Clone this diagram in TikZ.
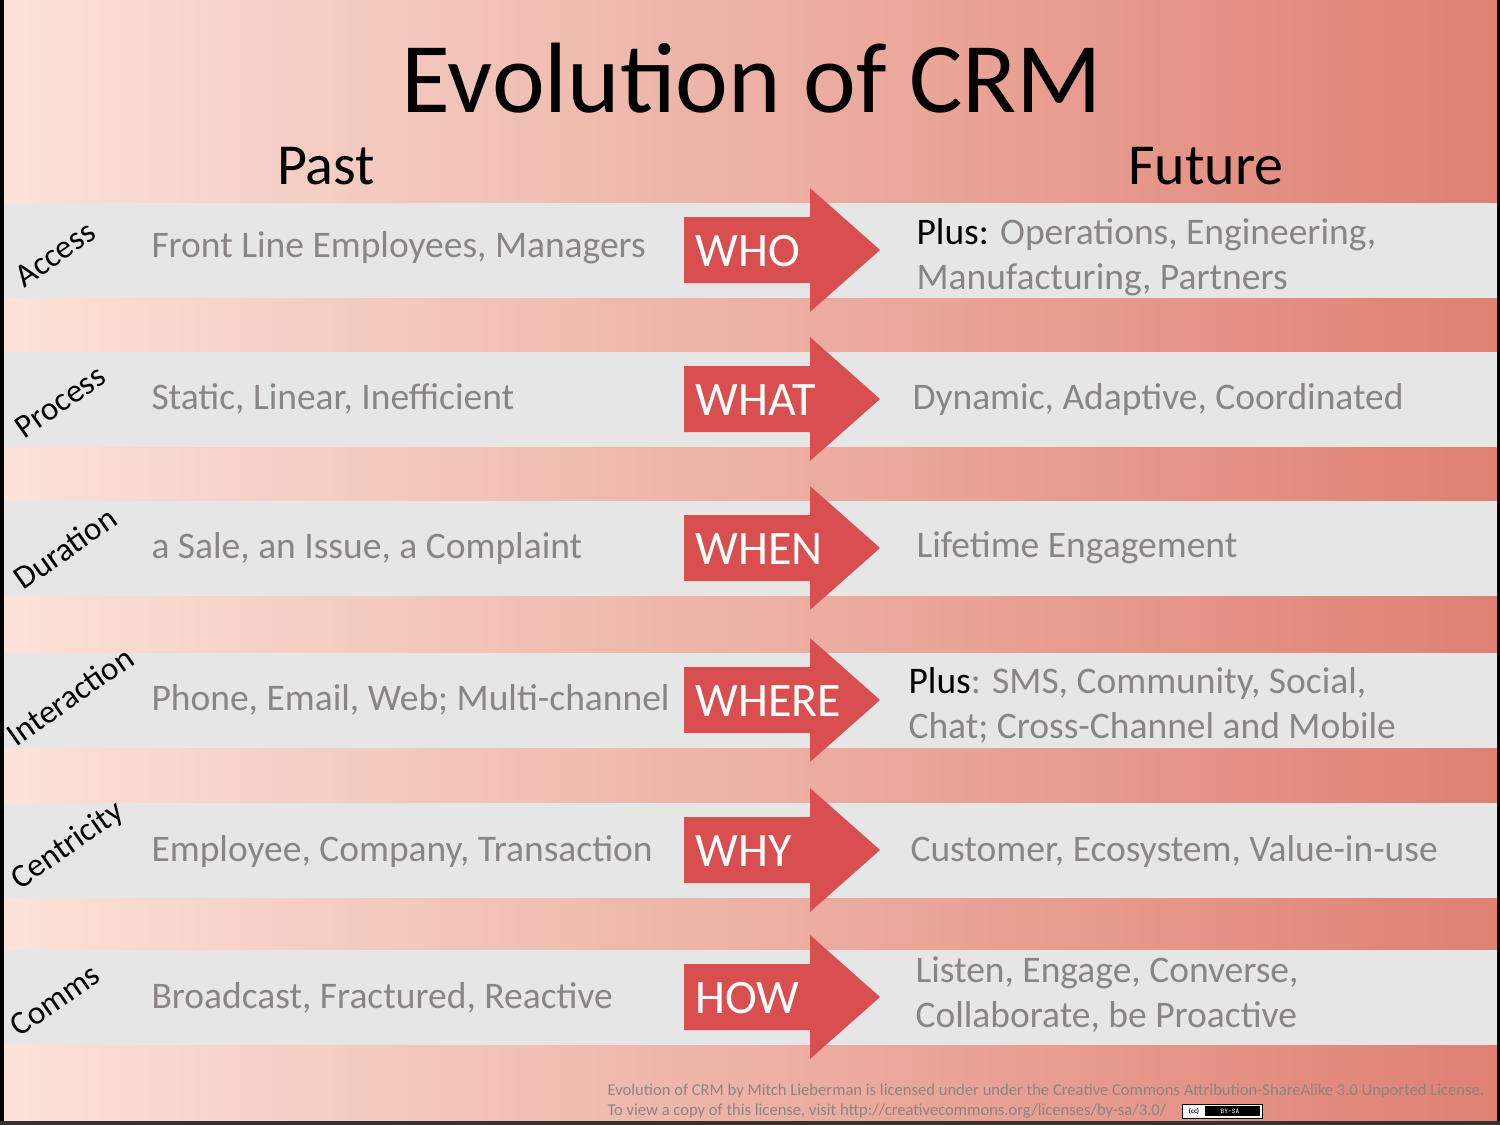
\documentclass[tikz,border=0pt]{standalone}
\usepackage{fontspec}
\setmainfont{Carlito}
\definecolor{bgL}{HTML}{FBE2D8}
\definecolor{bgR}{HTML}{DF8072}
\definecolor{band}{HTML}{E6E6E6}
\definecolor{arr}{HTML}{D94F50}
\definecolor{txt}{HTML}{8A8585}
\begin{document}
\begin{tikzpicture}[x=1pt,y=-1pt,
  rowtxt/.style={anchor=west,text=txt,font=\fontsize{37.5}{45}\selectfont,align=left},
  lbl/.style={rotate=35,font=\fontsize{33}{36}\selectfont,anchor=center,inner sep=0pt},
  arrtxt/.style={text=white,font=\fontsize{48}{50}\selectfont,anchor=west},
  lic/.style={anchor=west,text=txt,font=\fontsize{16.6}{19}\selectfont}]
\useasboundingbox (0,0) rectangle (1500,1125);
\fill[black] (0,0) rectangle (1500,1125);
\shade[left color=bgL,right color=bgR] (4,0) rectangle (1497,1121);
\fill[black!80] (0,1121) rectangle (1500,1125);
\node[font=\fontsize{100}{110}\selectfont] (title) at (752,78) {Evolution of CRM};
\node[font=\fontsize{58}{60}\selectfont] (past) at (326,166) {Past};
\node[font=\fontsize{58}{60}\selectfont] (future) at (1206,166) {Future};
\foreach \yc/\lab/\w/\lx/\ly [count=\i] in {250/Access/WHO/55/254, 399/Process/WHAT/60/402, 548/Duration/WHEN/65/548, 700/Interaction/WHERE/70/696, 850/Centricity/WHY/68/846, 997/Comms/HOW/55/1000}{
  \fill[band] (4,\yc-47) rectangle (1497,\yc+48);
  \fill[arr] (684,\yc-33) -- (810,\yc-33) -- (810,\yc-62) -- (880,\yc) -- (810,\yc+62) -- (810,\yc+33) -- (684,\yc+33) -- cycle;
  \node[arrtxt] (w\i) at (692,\yc+1) {\w};
  \node[lbl] (l\i) at (\lx,\ly) {\lab};
}
\node[rowtxt] (p1) at (148,248) {Front Line Employees, Managers};
\node[rowtxt] (p2) at (148,399) {Static, Linear, Inefficient};
\node[rowtxt] (p3) at (148,548) {a Sale, an Issue, a Complaint};
\node[rowtxt] (p4) at (148,700) {Phone, Email, Web; Multi-channel};
\node[rowtxt] (p5) at (148,851) {Employee, Company, Transaction};
\node[rowtxt] (p6) at (148,998) {Broadcast, Fractured, Reactive};
\node[rowtxt] (f1) at (913,257) {\textcolor{black}{Plus:} Operations, Engineering,\\Manufacturing, Partners};
\node[rowtxt] (f2) at (909,399) {Dynamic, Adaptive, Coordinated};
\node[rowtxt] (f3) at (913,548) {Lifetime Engagement};
\node[rowtxt] (f4) at (905,705) {\textcolor{black}{Plus}: SMS, Community, Social,\\Chat; Cross-Channel and Mobile};
\node[rowtxt] (f5) at (907,851) {Customer, Ecosystem, Value-in-use};
\node[rowtxt] (f6) at (912,994) {Listen, Engage, Converse,\\Collaborate, be Proactive};
\node[lic] (lic1) at (604,1091) {Evolution of CRM by Mitch Lieberman is licensed under under the Creative Commons Attribution-ShareAlike 3.0 Unported License.};
\node[lic] (lic2) at (604,1111) {To view a copy of this license, visit http://creativecommons.org/licenses/by-sa/3.0/};
\draw[black,fill=white] (1182,1104) rectangle (1262,1118);
\fill[black] (1205,1106) rectangle (1260,1116);
\node[text=white,font=\fontsize{7}{8}\selectfont\ttfamily] (bysa) at (1230,1111) {BY-SA};
\node[font=\fontsize{7}{8}\selectfont\bfseries,inner sep=0pt] (cc) at (1194,1111) {(cc)};
\end{tikzpicture}
\end{document}
